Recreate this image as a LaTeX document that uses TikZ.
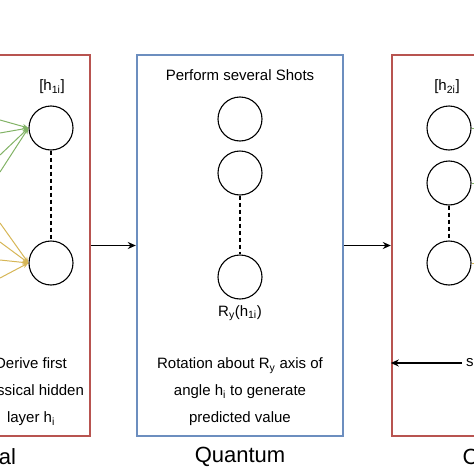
\documentclass[tikz,border=0pt]{standalone}
\usepackage{fontspec}
\setmainfont{Liberation Sans}
\usetikzlibrary{positioning,arrows.meta}
\definecolor{clsred}{HTML}{B85450}
\definecolor{qblue}{HTML}{6C8EBF}
\definecolor{ingreen}{HTML}{82B366}
\definecolor{inyellow}{HTML}{D6B656}
\tikzset{
    neuron/.style={circle, draw, line width=1.1pt, minimum size=44pt, inner sep=0pt},
    layerbox/.style={draw, line width=2.4pt, minimum height=381pt, inner sep=0pt},
    skip/.style={line width=1.4pt, dash pattern=on 4pt off 3pt},
    flow/.style={line width=1.4pt, -{Stealth[length=8pt,width=7pt]}},
    feed/.style={line width=1pt, -{Stealth[length=6pt,width=5pt]}},
    txt/.style={font=\fontsize{15}{27}\selectfont, align=center},
    big/.style={font=\fontsize{22}{26}\selectfont}
}
\begin{document}
\begin{tikzpicture}[x=1pt, y=-1pt]
    \useasboundingbox (0,0) rectangle (474,474);
    \clip (0,0) rectangle (474,474);

    % Boxes
    \node[layerbox, clsred, minimum width=190pt] (cbox) at (-5,245.5) {};
    \node[layerbox, qblue, minimum width=206pt] (qbox) at (240,245.5) {};
    \node[layerbox, clsred, minimum width=178pt] (rbox) at (481,245.5) {};
    \draw[flow] (cbox.east) -- (qbox.west);
    \draw[flow] (qbox.east) -- (rbox.west);

    % Classical (first)
    \node[txt] (h1lab) at (52,87) {[h\textsubscript{1i}]};
    \node[neuron] (c11) at (51,128) {};
    \node[neuron] (c12) at (51,263) {};
    \draw[skip] (c11.south) -- (c12.north);
    \foreach \y [count=\i] in {120,133,155,172} {
        \coordinate (g\i) at (0,\y);
        \draw[feed, ingreen] (g\i) -- (c11.west);
    }
    \foreach \y [count=\i] in {223,242,260,278} {
        \coordinate (y\i) at (0,\y);
        \draw[feed, inyellow] (y\i) -- (c12.west);
    }
    \node[txt] (derive) at (31,392) {Derive first\\classical hidden\\layer h\textsubscript{i}};
    \node[big] (clsA) at (-28,457) {Classical};

    % Quantum
    \node[txt] (shots) at (240,75) {Perform several Shots};
    \node[neuron] (q1) at (240,119) {};
    \node[neuron] (q2) at (240,173) {};
    \node[neuron] (q3) at (240,277) {};
    \draw[skip] (q2.south) -- (q3.north);
    \node[txt] (rylab) at (240,313) {R\textsubscript{y}(h\textsubscript{1i})};
    \node[txt] (rot) at (240,392) {Rotation about R\textsubscript{y} axis of\\angle h\textsubscript{i} to generate\\predicted value};
    \node[big] (quant) at (240,457) {Quantum};

    % Classical (second)
    \node[txt] (h2lab) at (447,87) {[h\textsubscript{2i}]};
    \node[neuron] (r1) at (449,128) {};
    \node[neuron] (r2) at (449,183) {};
    \node[neuron] (r3) at (449,263) {};
    \draw[skip] (r2.south) -- (r3.north);
    \coordinate (o1) at (490,128);
    \coordinate (o2) at (490,183);
    \coordinate (o3) at (490,263);
    \draw[line width=1pt, ingreen] (r1.east) -- (o1);
    \draw[line width=1pt, ingreen] (r2.east) -- (o2);
    \draw[line width=1pt, inyellow] (r3.east) -- (o3);
    \coordinate (sback) at (462,363);
    \draw[flow] (sback) -- (sback -| rbox.west);
    \node[txt, anchor=west, inner sep=0pt] (slab) at (466,363) {s};
    \node[big, anchor=west] (clsB) at (459,457) {Classical};
\end{tikzpicture}
\end{document}
